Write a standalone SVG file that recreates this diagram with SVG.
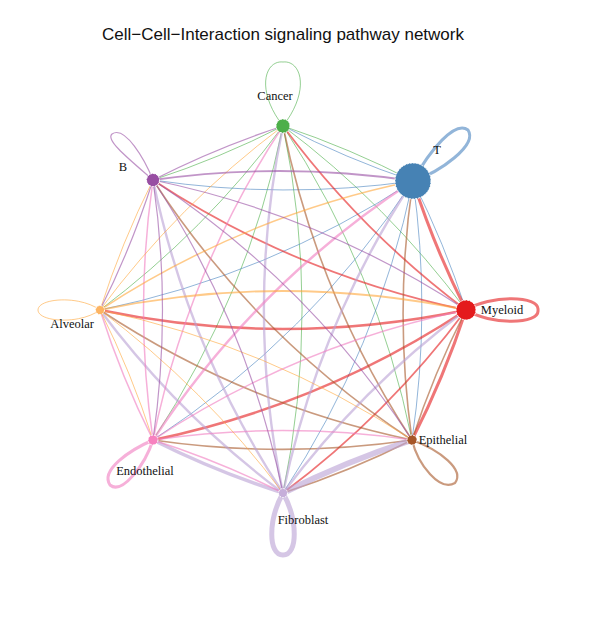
<svg xmlns="http://www.w3.org/2000/svg" width="600" height="622" viewBox="0 0 600 622">
<style>
path{fill:none;stroke-opacity:.6;stroke-linecap:round}
.c{stroke:#4DAF4A;stroke-width:1}
.t{stroke:#4A84C0;stroke-width:1}
.m{stroke:#E41A1C;stroke-width:1.8}
.e{stroke:#A65628;stroke-width:1.6}
.f{stroke:#B9A0D4;stroke-width:2.4}
.n{stroke:#F07CC0;stroke-width:1.5}
.a{stroke:#FFA63A;stroke-width:1}
.b{stroke:#984EA3;stroke-width:1.2}
text{font-family:"Liberation Serif",serif;font-size:12.5px;fill:#111}
.nd{stroke:#fff;stroke-width:1;stroke-dasharray:2 1}
</style>
<rect width="600" height="622" fill="#fff"/>
<text x="283" y="40" text-anchor="middle" style="font-family:'Liberation Sans',sans-serif;font-size:17px">Cell−Cell−Interaction signaling pathway network</text>
<g id="connectors">
<path class="c" d="M283 126C255 90 265 60 283 62C301 60 311 90 283 126"/>
<path class="t" style="stroke-width:3" d="M413 181C430 150 455 120 468 130C478 145 440 172 413 181"/>
<path class="m" style="stroke-width:3" d="M466 310C490 295 540 295 538 310C540 325 490 325 466 310"/>
<path class="e" style="stroke-width:2.2" d="M412 440C440 450 465 470 455 483C440 492 418 465 412 440"/>
<path class="f" style="stroke-width:5" d="M283 493C268 520 268 555 283 555C298 555 298 520 283 493"/>
<path class="n" style="stroke-width:3" d="M153 440C130 450 100 470 110 485C122 495 145 465 153 440"/>
<path class="a" d="M100 310C80 295 38 298 38 310C38 322 80 325 100 310"/>
<path class="b" d="M153 180C130 160 105 140 112 134C125 125 145 160 153 180"/>
<path class="c" d="M283 126A900 900 0 0 1 413 181"/>
<path class="c" d="M283 126A900 900 0 0 1 466 310"/>
<path class="c" d="M283 126A900 900 0 0 1 412 440"/>
<path class="c" d="M283 126A900 900 0 0 1 283 493"/>
<path class="c" d="M283 126A900 900 0 0 1 153 440"/>
<path class="c" d="M283 126A900 900 0 0 1 100 310"/>
<path class="c" d="M283 126A900 900 0 0 1 153 180"/>
<path class="t" d="M413 181A900 900 0 0 1 283 126"/>
<path class="t" d="M413 181A900 900 0 0 1 466 310"/>
<path class="t" d="M413 181A900 900 0 0 1 412 440"/>
<path class="t" d="M413 181A900 900 0 0 1 283 493"/>
<path class="t" d="M413 181A900 900 0 0 1 153 440"/>
<path class="t" d="M413 181A900 900 0 0 1 100 310"/>
<path class="t" d="M413 181A900 900 0 0 1 153 180"/>
<path class="m" d="M466 310A900 900 0 0 1 283 126"/>
<path class="m" style="stroke-width:3" d="M466 310A900 900 0 0 1 413 181"/>
<path class="m" style="stroke-width:3" d="M466 310A900 900 0 0 1 412 440"/>
<path class="m" d="M466 310A900 900 0 0 1 283 493"/>
<path class="m" style="stroke-width:2.5" d="M466 310A900 900 0 0 1 153 440"/>
<path class="m" style="stroke-width:2.5" d="M466 310A900 900 0 0 1 100 310"/>
<path class="m" d="M466 310A900 900 0 0 1 153 180"/>
<path class="e" d="M412 440A900 900 0 0 1 283 126"/>
<path class="e" d="M412 440A900 900 0 0 1 413 181"/>
<path class="e" d="M412 440A900 900 0 0 1 466 310"/>
<path class="e" d="M412 440A900 900 0 0 1 283 493"/>
<path class="e" d="M412 440A900 900 0 0 1 153 440"/>
<path class="e" d="M412 440A900 900 0 0 1 100 310"/>
<path class="e" d="M412 440A900 900 0 0 1 153 180"/>
<path class="f" d="M283 493A900 900 0 0 1 283 126"/>
<path class="f" d="M283 493A900 900 0 0 1 413 181"/>
<path class="f" d="M283 493A900 900 0 0 1 466 310"/>
<path class="f" style="stroke-width:6" d="M283 493A900 900 0 0 1 412 440"/>
<path class="f" style="stroke-width:3.5" d="M283 493A900 900 0 0 1 153 440"/>
<path class="f" d="M283 493A900 900 0 0 1 100 310"/>
<path class="f" d="M283 493A900 900 0 0 1 153 180"/>
<path class="n" d="M153 440A900 900 0 0 1 283 126"/>
<path class="n" style="stroke-width:2.5" d="M153 440A900 900 0 0 1 413 181"/>
<path class="n" d="M153 440A900 900 0 0 1 466 310"/>
<path class="n" d="M153 440A900 900 0 0 1 412 440"/>
<path class="n" d="M153 440A900 900 0 0 1 283 493"/>
<path class="n" d="M153 440A900 900 0 0 1 100 310"/>
<path class="n" d="M153 440A900 900 0 0 1 153 180"/>
<path class="a" d="M100 310A900 900 0 0 1 283 126"/>
<path class="a" style="stroke-width:1.5" d="M100 310A900 900 0 0 1 413 181"/>
<path class="a" style="stroke-width:1.8" d="M100 310A900 900 0 0 1 466 310"/>
<path class="a" d="M100 310A900 900 0 0 1 412 440"/>
<path class="a" d="M100 310A900 900 0 0 1 283 493"/>
<path class="a" d="M100 310A900 900 0 0 1 153 440"/>
<path class="a" d="M100 310A900 900 0 0 1 153 180"/>
<path class="b" d="M153 180A900 900 0 0 1 283 126"/>
<path class="b" style="stroke-width:1.8" d="M153 180A900 900 0 0 1 413 181"/>
<path class="b" d="M153 180A900 900 0 0 1 466 310"/>
<path class="b" d="M153 180A900 900 0 0 1 412 440"/>
<path class="b" d="M153 180A900 900 0 0 1 283 493"/>
<path class="b" d="M153 180A900 900 0 0 1 153 440"/>
<path class="b" d="M153 180A900 900 0 0 1 100 310"/>
</g>
<g id="node-cancer"><circle class="nd" cx="283" cy="126" r="7" fill="#4DAF4A"/><text x="275" y="100" text-anchor="middle">Cancer</text></g>
<g id="node-t"><circle class="nd" cx="413" cy="181" r="18" fill="#4682B4"/><text x="437" y="154" text-anchor="middle">T</text></g>
<g id="node-myeloid"><circle class="nd" cx="466" cy="310" r="10" fill="#E41A1C"/><text x="502" y="314" text-anchor="middle">Myeloid</text></g>
<g id="node-epithelial"><circle class="nd" cx="412" cy="440" r="5" fill="#A65628"/><text x="443" y="444" text-anchor="middle">Epithelial</text></g>
<g id="node-fibroblast"><circle class="nd" cx="283" cy="493" r="4.5" fill="#C6AEDA"/><text x="303" y="524" text-anchor="middle">Fibroblast</text></g>
<g id="node-endothelial"><circle class="nd" cx="153" cy="440" r="5" fill="#F781BF"/><text x="145" y="475" text-anchor="middle">Endothelial</text></g>
<g id="node-alveolar"><circle class="nd" cx="100" cy="310" r="4.5" fill="#FDB462"/><text x="72" y="328" text-anchor="middle">Alveolar</text></g>
<g id="node-b"><circle class="nd" cx="153" cy="180" r="6.5" fill="#984EA3"/><text x="123" y="171" text-anchor="middle">B</text></g>
</svg>
